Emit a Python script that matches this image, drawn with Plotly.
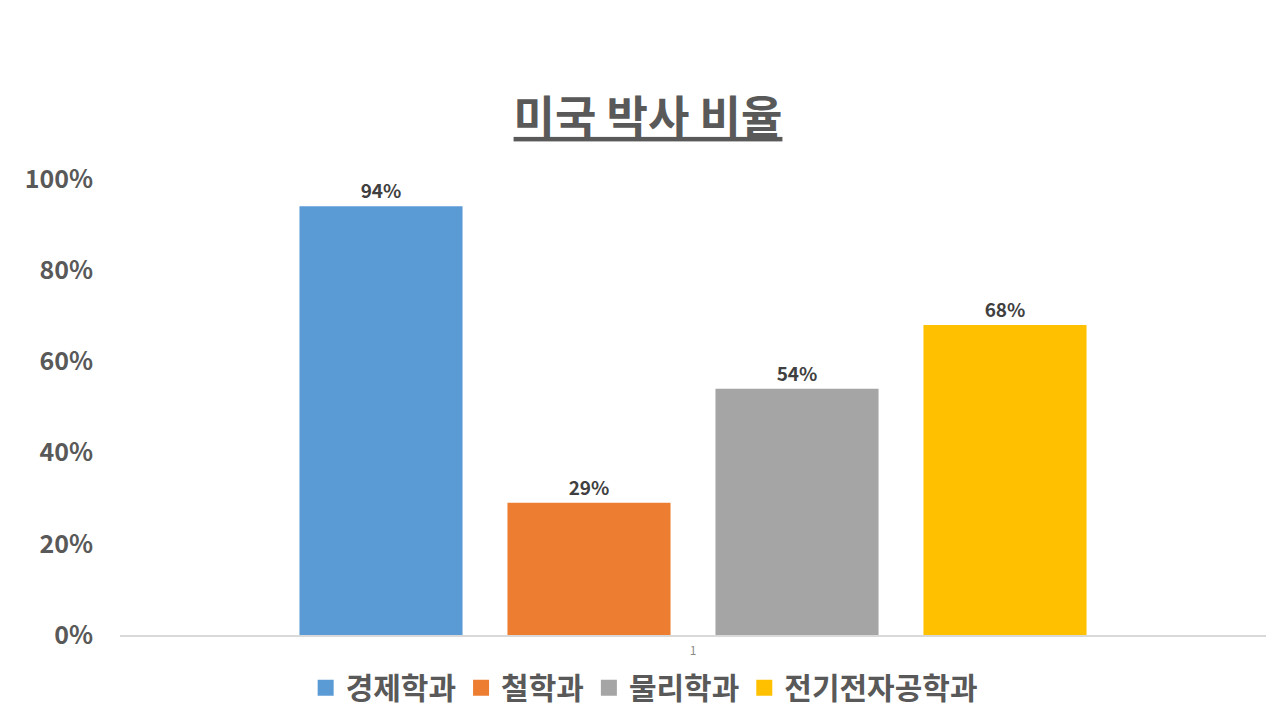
import plotly.graph_objects as go

# 미국 박사 비율 (단위: %)
categories = ['1']
majors = ['경제학과', '철학과', '물리학과', '전기전자공학과']
ratios = [94, 29, 54, 68]
colors = ['#5B9BD5', '#ED7D31', '#A5A5A5', '#FFC000']

font_family = 'Noto Sans CJK KR'

fig = go.Figure()

for name, value, color in zip(majors, ratios, colors):
    fig.add_trace(go.Bar(
        x=categories,
        y=[value],
        name=name,
        showlegend=False,
        marker=dict(color=color, line=dict(width=0)),
        text=[f'{value}%'],
        textposition='outside',
        cliponaxis=False,
        textfont=dict(family=font_family, size=19, color='#404040', weight='bold'),
    ))

# legend entries with bigger square swatches
for name, color in zip(majors, colors):
    fig.add_trace(go.Scatter(
        x=[None], y=[None],
        mode='markers',
        name=name,
        marker=dict(symbol='square', size=16, color=color),
        hoverinfo='skip',
    ))

fig.update_layout(
    width=1280,
    height=720,
    paper_bgcolor='white',
    plot_bgcolor='white',
    barmode='group',
    bargap=0.274,
    bargroupgap=0.216,
    margin=dict(l=112, r=22, t=171, b=93),
    title=dict(
        text='<u>미국 박사 비율</u>',
        x=0.5,
        xanchor='center',
        y=0.847,
        yanchor='middle',
        font=dict(family=font_family, size=45, color='#595959', weight='bold'),
    ),
    xaxis=dict(
        type='category',
        showline=True,
        linecolor='#D9D9D9',
        linewidth=1.5,
        showgrid=False,
        automargin=False,
        ticklabelstandoff=4,
        tickfont=dict(family=font_family, size=12, color='#8C8C8C'),
    ),
    yaxis=dict(
        range=[0, 100],
        dtick=20,
        ticksuffix='%',
        showgrid=False,
        zeroline=False,
        showline=False,
        automargin=False,
        ticklabelstandoff=26,
        tickfont=dict(family=font_family, size=25, color='#595959', weight='bold'),
    ),
    legend=dict(
        orientation='h',
        xref='container',
        yref='container',
        x=0.497,
        xanchor='center',
        y=0.056,
        yanchor='middle',
        font=dict(family=font_family, size=30, color='#595959', weight='bold'),
        itemwidth=30,
        tracegroupgap=0,
    ),
    showlegend=True,
)

fig.write_html('out.html')
